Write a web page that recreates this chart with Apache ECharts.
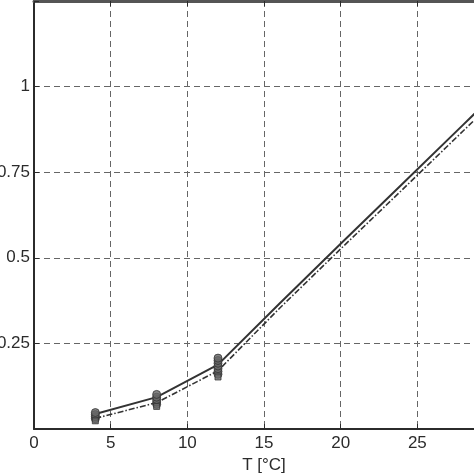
<!DOCTYPE html>
<html>
<head>
<meta charset="utf-8">
<script src="https://cdn.jsdelivr.net/npm/echarts@6/dist/echarts.min.js"></script>
<style>
  html, body { margin: 0; padding: 0; background: #fff; }
  #chart { width: 474px; height: 474px; }
</style>
</head>
<body>
<div id="chart"></div>
<script>
// model curves (T in degC, value)
const solidT = [4, 8, 12, 16, 20, 24, 28, 30];
const solidY = [0.044, 0.093, 0.188, 0.366, 0.541, 0.715, 0.889, 0.976];
const dashT = [4, 8, 12, 16, 20, 24, 28, 30];
const dashY = [0.031, 0.077, 0.170, 0.352, 0.526, 0.698, 0.871, 0.957];

// measured points
const circT = [4, 4, 4, 4, 8, 8, 8, 8, 8, 12, 12, 12, 12, 12, 12, 12];
const circY = [0.030, 0.036, 0.042, 0.048, 0.072, 0.079, 0.086, 0.093, 0.101, 0.160, 0.168, 0.176, 0.184, 0.192, 0.200, 0.207];
const sqT = [4, 8, 12];
const sqY = [0.024, 0.066, 0.152];

const xTicks = [0, 5, 10, 15, 20, 25];
const yTickLabels = [0.25, 0.5, 0.75, 1];

const pair = (xs, ys) => xs.map((x, i) => [x, ys[i]]);

const dark = '#2b2b2b';
const font = 'Liberation Sans';

const chart = echarts.init(document.getElementById('chart'));
chart.setOption({
    animation: false,
    grid: { left: 34, right: -20, top: 1, bottom: 45, containLabel: false, outerBoundsMode: 'none' },
    xAxis: [
        {
            type: 'value', min: 0, max: 30, interval: 5,
            name: 'T [°C]', nameLocation: 'middle', nameGap: 27,
            nameTextStyle: { fontFamily: font, fontSize: 17, color: dark },
            axisLine: { lineStyle: { color: dark, width: 2 } },
            axisTick: { inside: true, length: 5, lineStyle: { color: dark } },
            axisLabel: {
                fontFamily: font, fontSize: 17, color: dark, margin: 6,
                formatter: v => xTicks.includes(v) ? String(v) : ''
            },
            splitLine: { show: true, lineStyle: { color: '#666', type: [6, 4], width: 1 } }
        },
        {
            type: 'value', min: 0, max: 30, interval: 5, position: 'top',
            axisLine: { lineStyle: { color: '#555', width: 3 } },
            axisTick: { inside: true, length: 5, lineStyle: { color: dark } },
            axisLabel: { show: false },
            splitLine: { show: false }
        }
    ],
    yAxis: {
        type: 'value', min: 0, max: 1.25, interval: 0.25,
        axisLine: { show: true, lineStyle: { color: dark, width: 2 } },
        axisTick: { show: true, inside: true, length: 5, lineStyle: { color: dark } },
        axisLabel: {
            fontFamily: font, fontSize: 17, color: dark, margin: 4,
            formatter: v => yTickLabels.includes(+v.toFixed(2)) ? String(+v.toFixed(2)) : ''
        },
        splitLine: { show: true, lineStyle: { color: '#666', type: [6, 4], width: 1 } }
    },
    series: [
        {
            type: 'line', data: pair(solidT, solidY), showSymbol: false,
            lineStyle: { color: '#333', width: 2 }, z: 3
        },
        {
            type: 'line', data: pair(dashT, dashY), showSymbol: false,
            lineStyle: { color: '#333', width: 1.6, type: [6, 2, 1.5, 2] }, z: 3
        },
        {
            type: 'scatter', data: pair(circT, circY), symbol: 'circle', symbolSize: 8,
            itemStyle: { color: '#666', borderColor: '#333', borderWidth: 1 }, z: 4
        },
        {
            type: 'scatter', data: pair(sqT, sqY), symbol: 'rect', symbolSize: 6,
            itemStyle: { color: '#666', borderColor: '#333', borderWidth: 1 }, z: 4
        }
    ]
});
</script>
</body>
</html>
